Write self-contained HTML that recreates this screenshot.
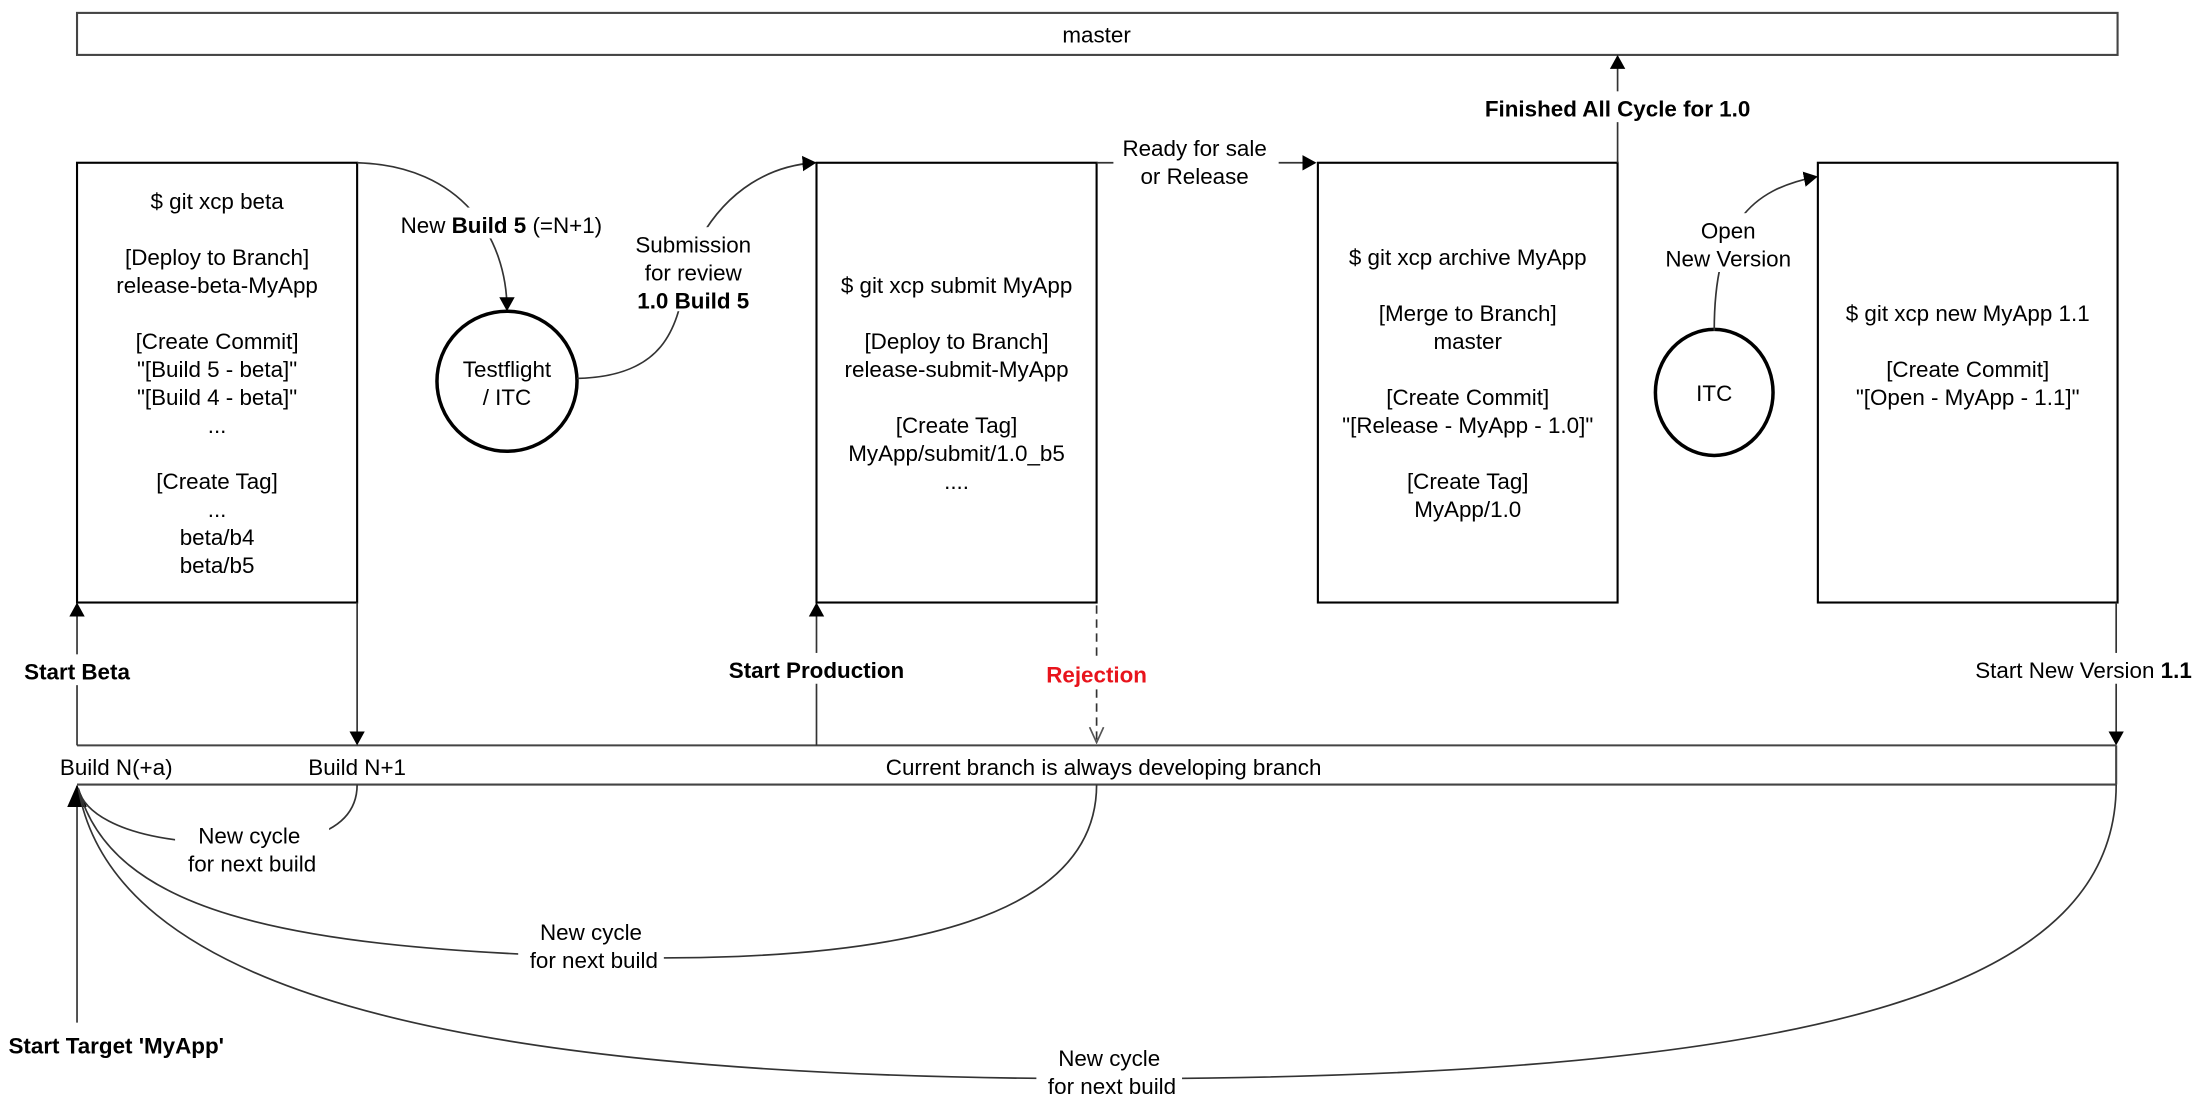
<!DOCTYPE html>
<html><head><meta charset="utf-8"><style>
html,body{margin:0;padding:0;background:#fff;}
svg{display:block;}
text{font-family:"Liberation Sans",Arial,sans-serif;font-size:16px;fill:#000;text-anchor:middle;}
.b{font-weight:bold;}
</style></head><body>
<svg width="2196" height="1100" viewBox="0 0 1568 785" xmlns="http://www.w3.org/2000/svg">
<defs>
<marker id="a" markerWidth="10" markerHeight="12" refX="9" refY="6" orient="auto" markerUnits="userSpaceOnUse"><path d="M0,0.5 L10,6 L0,11.5 z" fill="#000"/></marker>
<marker id="A" markerWidth="16" markerHeight="14" refX="15" refY="7" orient="auto" markerUnits="userSpaceOnUse"><path d="M0,0 L16,7 L0,14 z" fill="#000"/></marker>
<marker id="o" markerWidth="12" markerHeight="12" refX="11" refY="6" orient="auto" markerUnits="userSpaceOnUse"><path d="M0,1 L11,6 L0,11" fill="none" stroke="#555" stroke-width="1.2"/></marker>
</defs>
<g fill="none" stroke="#444" stroke-width="1.5">
<rect x="55" y="9" width="1457" height="30"/>
<line x1="55" y1="532" x2="1511" y2="532"/>
<line x1="55" y1="560" x2="1511" y2="560"/>
<line x1="1511" y1="532" x2="1511" y2="560"/>
</g>
<g fill="#fff" stroke="#000" stroke-width="1.5">
<rect x="55" y="116" width="200" height="314"/>
<rect x="583" y="116" width="200" height="314"/>
<rect x="941" y="116" width="214" height="314"/>
<rect x="1298" y="116" width="214" height="314"/>
<ellipse cx="362" cy="272" rx="50" ry="50" stroke-width="2.5"/>
<ellipse cx="1224" cy="280" rx="42" ry="45" stroke-width="2.5"/>
</g>
<g fill="none" stroke="#333" stroke-width="1.2">
<line x1="55" y1="532" x2="55" y2="431" marker-end="url(#a)"/>
<line x1="255" y1="430" x2="255" y2="531" marker-end="url(#a)"/>
<line x1="583" y1="532" x2="583" y2="431" marker-end="url(#a)"/>
<line x1="783" y1="432" x2="783" y2="530" stroke-dasharray="6,4" marker-end="url(#o)"/>
<line x1="1511" y1="430" x2="1511" y2="531" marker-end="url(#a)"/>
<line x1="55" y1="730" x2="55" y2="561" marker-end="url(#A)"/>
<line x1="1155" y1="116" x2="1155" y2="40" marker-end="url(#a)"/>
<line x1="783" y1="116" x2="939" y2="116" marker-end="url(#a)"/>
<path d="M255,116 C330,118 362,170 362,221" marker-end="url(#a)"/>
<path d="M412,270 C500,268 480,200 500,170 C520,135 550,118 582,116" marker-end="url(#a)"/>
<path d="M1224,236 C1224,160 1250,135 1297,126" marker-end="url(#a)"/>
<path d="M255,560 C255,600 200,608 130,600 C85,595 60,580 56,563"/>
<path d="M783,560 C783,650 660,690 420,683 C200,676 80,650 56,563"/>
<path d="M1511,560 C1511,700 1320,770 790,770 C300,770 80,700 56,563"/>
</g>
<g fill="#fff">
<rect x="265" y="148" width="190" height="22"/>
<rect x="445" y="162" width="100" height="60"/>
<rect x="795" y="93" width="118" height="42"/>
<rect x="1050" y="65" width="210" height="22"/>
<rect x="1183" y="152" width="104" height="42"/>
<rect x="12" y="467" width="88" height="22"/>
<rect x="513" y="466" width="140" height="22"/>
<rect x="740" y="469" width="86" height="22"/>
<rect x="1395" y="466" width="170" height="22"/>
<rect x="0" y="733" width="170" height="22"/>
<rect x="125" y="584" width="110" height="42"/>
<rect x="370" y="653" width="104" height="42"/>
<rect x="740" y="743" width="104" height="42"/>
</g>
<text x="783" y="30">master</text>
<text x="155" y="149">$ git xcp beta</text>
<text x="155" y="189">[Deploy to Branch]</text>
<text x="155" y="209">release-beta-MyApp</text>
<text x="155" y="249">[Create Commit]</text>
<text x="155" y="269">"[Build 5 - beta]"</text>
<text x="155" y="289">"[Build 4 - beta]"</text>
<text x="155" y="309">...</text>
<text x="155" y="349">[Create Tag]</text>
<text x="155" y="369">...</text>
<text x="155" y="389">beta/b4</text>
<text x="155" y="409">beta/b5</text>
<text x="683" y="209">$ git xcp submit MyApp</text>
<text x="683" y="249">[Deploy to Branch]</text>
<text x="683" y="269">release-submit-MyApp</text>
<text x="683" y="309">[Create Tag]</text>
<text x="683" y="329">MyApp/submit/1.0_b5</text>
<text x="683" y="349">....</text>
<text x="1048" y="189">$ git xcp archive MyApp</text>
<text x="1048" y="229">[Merge to Branch]</text>
<text x="1048" y="249">master</text>
<text x="1048" y="289">[Create Commit]</text>
<text x="1048" y="309">"[Release - MyApp - 1.0]"</text>
<text x="1048" y="349">[Create Tag]</text>
<text x="1048" y="369">MyApp/1.0</text>
<text x="1405" y="229">$ git xcp new MyApp 1.1</text>
<text x="1405" y="269">[Create Commit]</text>
<text x="1405" y="289">"[Open - MyApp - 1.1]"</text>
<text x="362" y="269">Testflight</text>
<text x="362" y="289">/ ITC</text>
<text x="1224" y="286">ITC</text>
<text x="358" y="166">New <tspan class="b">Build 5</tspan> (=N+1)</text>
<text x="495" y="180">Submission</text>
<text x="495" y="200">for review</text>
<text x="495" y="220" class="b">1.0 Build 5</text>
<text x="853" y="111">Ready for sale</text>
<text x="853" y="131">or Release</text>
<text x="1155" y="83" class="b">Finished All Cycle for 1.0</text>
<text x="1234" y="170">Open</text>
<text x="1234" y="190">New Version</text>
<text x="55" y="485" class="b">Start Beta</text>
<text x="583" y="484" class="b">Start Production</text>
<text x="783" y="487" class="b" style="fill:#e8141c">Rejection</text>
<text x="1565" y="484" style="text-anchor:end">Start New Version <tspan class="b">1.1</tspan></text>
<text x="83" y="752" class="b">Start Target 'MyApp'</text>
<text x="83" y="553">Build N(+a)</text>
<text x="255" y="553">Build N+1</text>
<text x="788" y="553">Current branch is always developing branch</text>
<text x="178" y="602">New cycle</text>
<text x="180" y="622">for next build</text>
<text x="422" y="671">New cycle</text>
<text x="424" y="691">for next build</text>
<text x="792" y="761">New cycle</text>
<text x="794" y="781">for next build</text>
</svg>
</body></html>
